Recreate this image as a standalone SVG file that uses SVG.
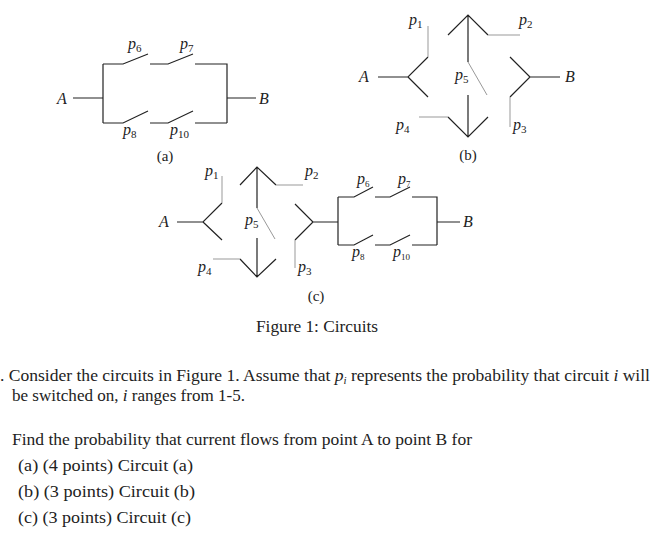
<svg xmlns="http://www.w3.org/2000/svg" width="654" height="544" viewBox="0 0 654 544">
<style>
text{font-family:"Liberation Serif","DejaVu Serif",serif;fill:#222}
.m{font-style:italic;font-size:16px}
.l{font-size:15px}
.b{font-size:16px}
.w{fill:none;stroke:#222;stroke-width:1.2}
.g{fill:none;stroke:#999;stroke-width:1}
</style>
<rect width="654" height="544" fill="#fff"/>
<g id="connectors">
<path class="w" d="M73,98H103M103,64V123M103,64H123L148,54M150,64H168L193,54M195,64H227V123M103,123H123L148,111M150,123H168L193,111M195,123H227M227,98H256"/>
<path class="w" d="M378,77H408L428,57M408,77L428,97M468,62V15M448,35L468,15L488,35M468,95V137M448,117L468,137L488,117M510,57L530,77L510,97M530,77H560"/>
<path class="g" d="M428,57V26M488,35H520M468,62L487,95M448,117H419M510,97V127"/>
<path class="w" d="M177,222H203L222,203M203,222L222,240M257,208V167M240,185L257,167L276,185M257,238V277M240,259L257,277L276,259M295,204L313,222L295,240M313,222H338M338,197V245M338,197H354L373,187M375,197H390L410,187M412,197H437V245M338,245H354L373,235M375,245H390L410,235M412,245H437M437,222H460"/>
<path class="g" d="M222,203V176M276,185H303M257,208L275,239M240,259H213M295,240V268"/>
</g>
<g id="circuit-a">
<text class="m" x="57" y="104">A</text><text class="m" x="259" y="104">B</text>
<text class="m" x="128" y="49">p<tspan font-size="11" dy="3" font-style="normal">6</tspan></text>
<text class="m" x="180" y="49">p<tspan font-size="11" dy="3" font-style="normal">7</tspan></text>
<text class="m" x="123" y="135">p<tspan font-size="11" dy="3" font-style="normal">8</tspan></text>
<text class="m" x="170" y="135">p<tspan font-size="11" dy="3" font-style="normal">10</tspan></text>
<text class="l" x="165" y="161" text-anchor="middle">(a)</text>
</g>
<g id="circuit-b">
<text class="m" x="359" y="82">A</text><text class="m" x="565" y="82">B</text>
<text class="m" x="409" y="25">p<tspan font-size="11" dy="3" font-style="normal">1</tspan></text>
<text class="m" x="519" y="25">p<tspan font-size="11" dy="3" font-style="normal">2</tspan></text>
<text class="m" x="455" y="80">p<tspan font-size="11" dy="3" font-style="normal">5</tspan></text>
<text class="m" x="396" y="130">p<tspan font-size="11" dy="3" font-style="normal">4</tspan></text>
<text class="m" x="513" y="130">p<tspan font-size="11" dy="3" font-style="normal">3</tspan></text>
<text class="l" x="468" y="160" text-anchor="middle">(b)</text>
</g>
<g id="circuit-c">
<text class="m" x="159" y="227">A</text><text class="m" x="463" y="227">B</text>
<text class="m" x="205" y="176">p<tspan font-size="11" dy="3" font-style="normal">1</tspan></text>
<text class="m" x="305" y="176">p<tspan font-size="11" dy="3" font-style="normal">2</tspan></text>
<text class="m" x="245" y="225">p<tspan font-size="11" dy="3" font-style="normal">5</tspan></text>
<text class="m" x="198" y="272">p<tspan font-size="11" dy="3" font-style="normal">4</tspan></text>
<text class="m" x="298" y="272">p<tspan font-size="11" dy="3" font-style="normal">3</tspan></text>
<text class="m" x="357" y="184" font-size="13">p<tspan font-size="9" dy="3" font-style="normal">6</tspan></text>
<text class="m" x="398" y="184" font-size="13">p<tspan font-size="9" dy="3" font-style="normal">7</tspan></text>
<text class="m" x="352" y="257" font-size="13">p<tspan font-size="9" dy="3" font-style="normal">8</tspan></text>
<text class="m" x="393" y="257" font-size="13">p<tspan font-size="9" dy="3" font-style="normal">10</tspan></text>
<text class="l" x="316" y="301" text-anchor="middle">(c)</text>
</g>
<g id="text">
<text class="b" x="256" y="332" textLength="122" lengthAdjust="spacingAndGlyphs">Figure 1: Circuits</text>
<text class="b" x="0" y="381" textLength="650" lengthAdjust="spacingAndGlyphs">. Consider the circuits in Figure 1. Assume that <tspan font-style="italic">p<tspan font-size="10" dy="3">i</tspan></tspan><tspan dy="-3"> represents the probability that circuit </tspan><tspan font-style="italic">i</tspan> will</text>
<text class="b" x="12" y="401" textLength="233" lengthAdjust="spacingAndGlyphs">be switched on, <tspan font-style="italic">i</tspan> ranges from 1-5.</text>
<text class="b" x="12" y="445" textLength="460" lengthAdjust="spacingAndGlyphs">Find the probability that current flows from point A to point B for</text>
<text class="b" x="18" y="471" textLength="175" lengthAdjust="spacingAndGlyphs">(a) (4 points) Circuit (a)</text>
<text class="b" x="18" y="497" textLength="177" lengthAdjust="spacingAndGlyphs">(b) (3 points) Circuit (b)</text>
<text class="b" x="18" y="523" textLength="173" lengthAdjust="spacingAndGlyphs">(c) (3 points) Circuit (c)</text>
</g>
</svg>
